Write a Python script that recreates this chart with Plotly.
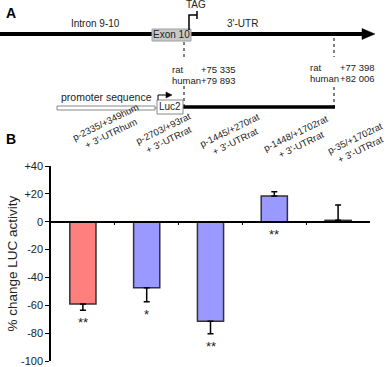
import plotly.graph_objects as go

W, H = 387, 367
FONT = "Arial, 'Liberation Sans', sans-serif"

# ---------------- data (panel B) ----------------
categories = [
    "p-2335/+349hum<br>+ 3'-UTRhum",
    "p-2703/+93rat<br>+ 3'-UTRrat",
    "p-1445/+270rat<br>+ 3'-UTRrat",
    "p-1448/+1702rat<br>+ 3'-UTRrat",
    "p-35/+1702rat<br>+ 3'-UTRrat",
]
values = [-59, -47.5, -71.5, 18.5, 1]
err_plus = [0, 0, 0, 3, 11]
err_minus = [4.5, 10, 9, 0, 0]
significance = ["**", "*", "**", "**", ""]
bar_colors = ["#ff7f7f", "#9999ff", "#9999ff", "#9999ff", "#9999ff"]
y_tick_values = [40, 20, 0, -20, -40, -60, -80, -100]
y_tick_labels = ["+40", "+20", "0", "-20", "-40", "-60", "-80", "-100"]
y_range = [-100, 40]
y_title = "% change LUC activity"

# ---------------- layout helpers (pixel -> paper) ----------------
def X(px):
    return px / W

def Y(py):
    return 1 - py / H

plot_left, plot_right, plot_top, plot_bottom = 51, 370, 166, 361
x_dom = [X(plot_left), X(plot_right)]
y_dom = [Y(plot_bottom), Y(plot_top)]
zero_pos = y_dom[0] + (0 - y_range[0]) / (y_range[1] - y_range[0]) * (y_dom[1] - y_dom[0])

xs = list(range(len(categories)))

fig = go.Figure()
fig.add_trace(go.Bar(
    x=xs, y=values,
    marker=dict(color=bar_colors, line=dict(color="#333333", width=1.5)),
    width=0.41,
    error_y=dict(type="data", symmetric=False, array=err_plus, arrayminus=err_minus,
                 color="black", thickness=1.5, width=3),
    showlegend=False, hoverinfo="skip",
))

annotations = []
# category labels (rotated), anchored at their lower-left corner near each bar's left edge
for i, lab in enumerate(categories):
    annotations.append(dict(
        x=i, xref="x", y=Y(156 + 3.5 * i), yref="paper", text=lab, showarrow=False,
        textangle=-26, xshift=-15, xanchor="left", yanchor="bottom", align="center",
        font=dict(family=FONT, size=9.5, color="#222222"),
    ))
# significance stars
for i, s in enumerate(significance):
    if not s:
        continue
    ybase = min(values[i] - err_minus[i], 0)
    annotations.append(dict(
        x=i, xref="x", y=ybase, yref="y", text=s, showarrow=False,
        xanchor="center", yanchor="top", yshift=-3,
        font=dict(family=FONT, size=13, color="#222222"),
    ))
# y-axis title
annotations.append(dict(
    x=X(12), y=Y((plot_top + plot_bottom) / 2), xref="paper", yref="paper",
    text=y_title, textangle=-90, showarrow=False, xanchor="center", yanchor="middle",
    font=dict(family=FONT, size=13.5, color="#222222"),
))

def txt(text, px, py, size=10, anchor="center", bold=False, color="#222222"):
    annotations.append(dict(
        x=X(px), y=Y(py), xref="paper", yref="paper", text=(f"<b>{text}</b>" if bold else text),
        showarrow=False, xanchor=anchor, yanchor="middle",
        font=dict(family=FONT, size=size, color=color),
    ))

# panel A texts
txt("A", 11, 13, size=14, bold=True, color="black")
txt("B", 11, 139, size=14, bold=True, color="black")
txt("Intron 9-10", 95, 23, size=10)
txt("Exon 10", 171, 35, size=10)
txt("TAG", 196, 5, size=10)
txt("3'-UTR", 242, 23, size=10)
txt("rat", 170, 69, size=9.5, anchor="left")
txt("human", 170, 80, size=9.5, anchor="left")
txt("+75 335", 238, 69, size=9.5, anchor="right")
txt("+79 893", 238, 80, size=9.5, anchor="right")
txt("rat", 308, 68, size=9.5, anchor="left")
txt("human", 308, 79, size=9.5, anchor="left")
txt("+77 398", 377, 68, size=9.5, anchor="right")
txt("+82 006", 377, 79, size=9.5, anchor="right")
txt("promoter sequence", 107, 97, size=10.5)
txt("Luc2", 170, 107, size=10)

shapes = []

def line(x0, y0, x1, y1, width=1, color="black", dash="solid"):
    shapes.append(dict(type="line", xref="paper", yref="paper", x0=X(x0), y0=Y(y0), x1=X(x1), y1=Y(y1),
                       line=dict(color=color, width=width, dash=dash), layer="above"))

def rect(x0, y0, x1, y1, fill, lc="#888888", lw=1):
    shapes.append(dict(type="rect", xref="paper", yref="paper", x0=X(x0), y0=Y(y0), x1=X(x1), y1=Y(y1),
                       fillcolor=fill, line=dict(color=lc, width=lw), layer="above"))

def path(points, fill=None, width=1, closed=False):
    d = "M " + " L ".join(f"{X(a):.5f},{Y(b):.5f}" for a, b in points) + (" Z" if closed else "")
    shp = dict(type="path", xref="paper", yref="paper", path=d, line=dict(color="black", width=width), layer="above")
    if fill:
        shp["fillcolor"] = fill
    shapes.append(shp)

# main gene line with arrow
line(0, 34, 364, 34, width=4)
path([(362, 28.5), (375, 34), (362, 39.5)], fill="black", width=0.5, closed=True)
# exon box
rect(152, 29, 191, 41, "#c8c8c8", lc="#a0a0a0")
# TAG marker
path([(189, 30), (189, 15), (197, 15)], width=1.5)
line(197, 11, 197, 19, width=1.5)
# dotted guides
line(184, 42, 184, 60, dash="dot")
line(184, 86, 184, 107, dash="dot")
line(334, 38, 334, 57, dash="dot")
line(334, 87, 334, 107, dash="dot")
# construct line
line(182, 107, 335, 107, width=3.5)
rect(57, 106, 155, 110, "white", lc="#888888")
line(155, 108, 157, 108, width=1, color="#888888")
rect(157, 100, 183, 114, "white", lc="#888888")
path([(158, 100), (158, 95), (167, 95)], width=1)
path([(166, 92), (172, 95), (166, 98)], fill="black", width=0.5, closed=True)

fig.update_layout(
    width=W, height=H,
    margin=dict(l=0, r=0, t=0, b=0),
    paper_bgcolor="white", plot_bgcolor="white",
    font=dict(family=FONT, size=11, color="#222222"),
    bargap=0.59,
    xaxis=dict(domain=x_dom, range=[-0.5, len(categories) - 0.5], anchor="free", position=zero_pos,
               showline=True, linecolor="black", linewidth=1.5, showgrid=False, zeroline=False,
               tickvals=[i + 0.5 for i in range(len(categories) - 1)], ticks="outside", ticklen=3,
               tickcolor="black", tickwidth=1, showticklabels=False, automargin=False, fixedrange=True),
    yaxis=dict(domain=y_dom, range=y_range, showline=True, linecolor="black", linewidth=1.5,
               showgrid=False, zeroline=False, tickvals=y_tick_values, ticktext=y_tick_labels,
               ticks="outside", ticklen=4, tickcolor="black", tickwidth=1, ticklabeloverflow="allow",
               tickfont=dict(family=FONT, size=11, color="#222222"), automargin=False, fixedrange=True),
    annotations=annotations,
    shapes=shapes,
)

fig.write_html("out.html", config={"displayModeBar": False},
               post_script="document.body.style.margin='0px';")
